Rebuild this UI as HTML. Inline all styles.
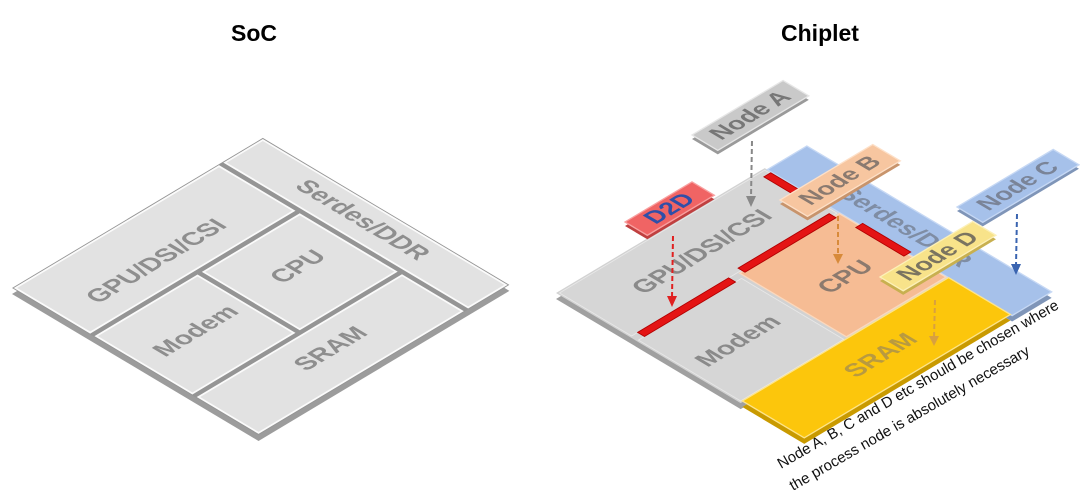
<!DOCTYPE html>
<html><head><meta charset="utf-8"><style>
html,body{margin:0;padding:0;background:#fff;}
svg{display:block;}
text{font-family:"Liberation Sans",sans-serif;}
</style></head><body>
<svg width="1080" height="497" viewBox="0 0 1080 497" xmlns="http://www.w3.org/2000/svg">
<text x="254" y="41" font-size="23" font-weight="bold" text-anchor="middle" fill="#000">SoC</text>
<text x="820" y="41" font-size="23" font-weight="bold" text-anchor="middle" fill="#000">Chiplet</text>

<!-- SoC -->
<g transform="translate(0,6)"><g transform="matrix(0.859,-0.514,0.859,0.512,12,288)">
<rect x="0" y="0" width="292" height="287" fill="#9c9c9c"/></g></g>
<g transform="matrix(0.859,-0.514,0.859,0.512,12,288)">
<rect x="0" y="0" width="292" height="287" fill="#959595"/>
<g fill="#e2e2e2" stroke="#fbfbfb" stroke-width="2">
<rect x="2" y="2" width="237" height="87"/>
<rect x="246" y="2" width="44" height="283"/>
<rect x="2" y="96" width="118" height="112"/>
<rect x="127" y="96" width="112" height="112"/>
<rect x="2" y="215" width="237" height="70"/>
</g>
<g font-size="25" font-weight="bold" fill="#8e8e8e" text-anchor="middle" dominant-baseline="central">
<text x="110" y="58">GPU/DSI/CSI</text>
<text x="187" y="146">CPU</text>
<text x="65" y="149">Modem</text>
<text x="126" y="245">SRAM</text>
<text transform="translate(270,138) rotate(90)">Serdes/DDR</text>
</g></g>

<!-- Chiplet -->
<g transform="translate(0,6)"><g transform="matrix(0.859,-0.514,0.859,0.512,556,293)">
<rect x="0" y="0" width="243" height="215" fill="#a0a0a0"/>
<rect x="243" y="3" width="46" height="285" fill="#7f95b8"/>
<rect x="3" y="214" width="240" height="72" fill="#c99a00"/></g></g>
<g transform="matrix(0.859,-0.514,0.859,0.512,556,293)">
<rect x="0" y="0" width="243" height="215" fill="#d2d2d2"/>
<rect x="2" y="2" width="239" height="84" fill="#d6d6d6" stroke="#e8e8e8" stroke-width="1"/>
<rect x="2" y="94" width="120" height="119" fill="#d6d6d6" stroke="#e8e8e8" stroke-width="1"/>
<rect x="243" y="3" width="46" height="285" fill="#a6c1ea" stroke="#c6d8f4" stroke-width="1.5"/>
<rect x="126" y="88" width="116" height="124" fill="#f6bc94" stroke="#fbd8bd" stroke-width="1.5"/>
<rect x="3" y="214" width="240" height="72" fill="#fcc60c" stroke="#fde48a" stroke-width="1.5"/>
<g fill="#e41414" stroke="#b00000" stroke-width="1">
<rect x="9" y="86" width="106" height="8"/>
<rect x="130" y="82" width="106" height="8"/>
<rect x="238" y="111" width="8" height="56"/>
<rect x="234" y="8" width="8" height="32"/>
<rect x="236" y="66" width="8" height="8"/>
</g>
<g font-size="25" font-weight="bold" fill="#8a8a8a" text-anchor="middle" dominant-baseline="central">
<text x="125" y="45">GPU/DSI/CSI</text>
<text x="184" y="153" fill="#8c7a6e">CPU</text>
<text x="59" y="153">Modem</text>
<text x="128" y="250" fill="#b89a40">SRAM</text>
<text transform="translate(267,139) rotate(90)" fill="#7f8da4">Serdes/DDR</text>
</g></g>

<g stroke-width="2" stroke-dasharray="5,3" fill="none">
<line x1="752" y1="141" x2="751" y2="198" stroke="#888"/>
<line x1="673" y1="236" x2="672" y2="298" stroke="#e02020"/>
<line x1="838" y1="216" x2="838" y2="256" stroke="#d88a3a"/>
<line x1="1017" y1="214" x2="1016" y2="266" stroke="#3a64b0"/>
<line x1="935" y1="300" x2="934" y2="338" stroke="#d8a040"/>
</g>
<g>
<polygon points="746,196 756,196 751,207" fill="#888"/>
<polygon points="667,296 677,296 672,307" fill="#e02020"/>
<polygon points="833,254 843,254 838,264" fill="#d88a3a"/>
<polygon points="1011,264 1021,264 1016,275" fill="#3a64b0"/>
<polygon points="929,336 939,336 934,346" fill="#d8a040"/>
</g>

<g font-size="24" font-weight="bold" text-anchor="middle" dominant-baseline="central">
<g transform="translate(0,4)"><g transform="matrix(0.859,-0.514,0.859,0.512,692,135)"><rect width="106" height="30" fill="#9a9a9a"/></g></g>
<g transform="matrix(0.859,-0.514,0.859,0.512,692,135)"><rect width="106" height="30" fill="#c9c9c9" stroke="#e6e6e6" stroke-width="1.5"/><text x="53" y="15" fill="#777">Node A</text></g>

<g transform="translate(0,4)"><g transform="matrix(0.859,-0.514,0.859,0.512,625,222)"><rect width="78" height="26" fill="#c04040"/></g></g>
<g transform="matrix(0.859,-0.514,0.859,0.512,625,222)"><rect width="78" height="26" fill="#f06464" stroke="#f8a0a0" stroke-width="1.5"/><text x="39" y="13" fill="#2f4fa8">D2D</text></g>

<g transform="translate(0,4)"><g transform="matrix(0.859,-0.514,0.859,0.512,780,200)"><rect width="108" height="32" fill="#c8946c"/></g></g>
<g transform="matrix(0.859,-0.514,0.859,0.512,780,200)"><rect width="108" height="32" fill="#f7c6a0" stroke="#fde0c8" stroke-width="1.5"/><text x="54" y="16" fill="#8a7a70">Node B</text></g>

<g transform="translate(0,4)"><g transform="matrix(0.859,-0.514,0.859,0.512,957,207)"><rect width="112" height="30" fill="#7f95b8"/></g></g>
<g transform="matrix(0.859,-0.514,0.859,0.512,957,207)"><rect width="112" height="30" fill="#a6c1ea" stroke="#c6d8f4" stroke-width="1.5"/><text x="56" y="15" fill="#7a8498">Node C</text></g>

<g transform="translate(0,4)"><g transform="matrix(0.859,-0.514,0.859,0.512,880,277)"><rect width="108" height="27" fill="#c8b050"/></g></g>
<g transform="matrix(0.859,-0.514,0.859,0.512,880,277)"><rect width="108" height="27" fill="#f8e38a" stroke="#fcf0b8" stroke-width="1.5"/><text x="54" y="13.5" fill="#7a7460">Node D</text></g>
</g>

<g font-size="15" fill="#111">
<text transform="translate(781,469) rotate(-30)">Node A, B, C and D etc should be chosen where</text>
<text transform="translate(793,491) rotate(-30)">the process node is absolutely necessary</text>
</g>
</svg>
</body></html>
